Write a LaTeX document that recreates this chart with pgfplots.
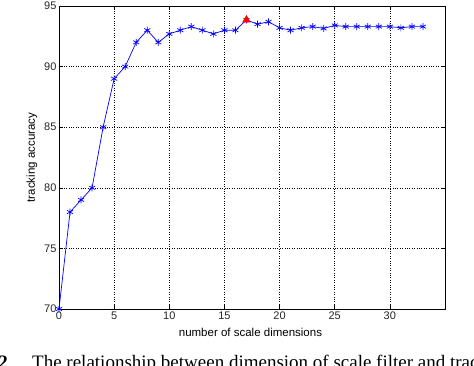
\documentclass[border=0pt]{standalone}
\usepackage{fontspec}
\setmainfont{Liberation Sans}
\newfontfamily\seriffont{Liberation Serif}
\usepackage{pgfplots}
\pgfplotsset{compat=1.18}
\begin{document}
\begin{tikzpicture}
\begin{axis}[
  name=ax,
  at={(0,0)}, anchor=south west,
  scale only axis,
  width=386pt, height=303pt,
  xmin=0, xmax=35, ymin=70, ymax=95,
  xtick={0,5,...,30}, ytick={70,75,...,95},
  grid=major,
  major grid style={black, dotted, line width=0.5pt},
  axis line style={black, line width=0.7pt},
  tick align=inside,
  tick style={black, line width=0.5pt},
  major tick length=4pt,
  tick label style={font=\fontsize{11}{12}\selectfont, text=black!85},
  /pgf/number format/assume math mode=true,
  xticklabel style={yshift=1pt},
  yticklabel style={xshift=1pt},
  xlabel={number of scale dimensions},
  ylabel={tracking accuracy},
  label style={font=\fontsize{11.5}{12}\selectfont},
  xlabel style={at={(axis description cs:0.496,-0.076)}, anchor=center},
  ylabel style={at={(axis description cs:-0.07,0.5)}, anchor=center, rotate=0},
  clip=false,
]
\addplot[blue, line width=0.7pt, mark=asterisk, mark size=3.5pt, mark options={line width=0.7pt}] coordinates {
(0,70) (1,78) (2,79) (3,80) (4,85) (5,89) (6,90) (7,92) (8,93) (9,92)
(10,92.7) (11,93) (12,93.3) (13,93) (14,92.7) (15,93) (16,93) (17,93.85)
(18,93.5) (19,93.7) (20,93.2) (21,93) (22,93.2) (23,93.3) (24,93.15)
(25,93.4) (26,93.3) (27,93.3) (28,93.3) (29,93.3) (30,93.3) (31,93.2)
(32,93.3) (33,93.3)
};
\addplot[only marks, red, mark=triangle*, mark size=4.5pt] coordinates {(17,93.85)};
\end{axis}
\node[anchor=base west, inner sep=0pt, font=\seriffont\fontsize{19}{20}\selectfont] at ([shift={(-27pt,-59pt)}]ax.south west) {The relationship between dimension of scale filter and tracking accuracy};
\node[anchor=base east, inner sep=0pt, font=\seriffont\bfseries\fontsize{19}{20}\selectfont] at ([shift={(-51pt,-59pt)}]ax.south west) {2};
\pgfresetboundingbox
\path[use as bounding box] ([shift={(-59pt,-56pt)}]ax.south west) rectangle ([shift={(415pt,309pt)}]ax.south west);
\end{tikzpicture}
\end{document}
